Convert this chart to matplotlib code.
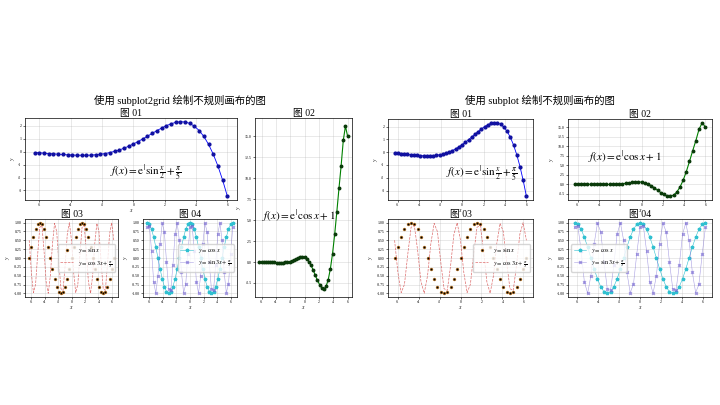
import matplotlib
matplotlib.use('Agg')
import matplotlib.pyplot as plt

plt.rcParams['font.family'] = ['Liberation Serif', 'Noto Sans CJK SC']
plt.rcParams['mathtext.fontset'] = 'stix'
plt.rcParams['axes.unicode_minus'] = False

# grid for 图01 / 图02
xa = [-6.3, -6.0, -5.7, -5.4, -5.1, -4.8, -4.5, -4.2, -3.9, -3.6, -3.3, -3.0, -2.7, -2.4,
      -2.1, -1.8, -1.5, -1.2, -0.9, -0.6, -0.3, 0.0, 0.3, 0.6, 0.9, 1.2, 1.5, 1.8, 2.1,
      2.4, 2.7, 3.0, 3.3, 3.6, 3.9, 4.2, 4.5, 4.8, 5.1, 5.4, 5.7, 6.0]
y01 = [-0.07, -0.09, -0.12, -0.15, -0.17, -0.20, -0.22, -0.25, -0.26, -0.28, -0.28, -0.28,
       -0.27, -0.24, -0.20, -0.15, -0.07, 0.02, 0.13, 0.26, 0.42, 0.59, 0.78, 0.98, 1.19,
       1.41, 1.62, 1.82, 2.00, 2.15, 2.26, 2.31, 2.29, 2.18, 1.96, 1.63, 1.17, 0.56,
       -0.20, -1.12, -2.21, -3.45]
y02 = [0.0, 0.0, 0.0, 0.0, 0.0, -0.02, -0.03, -0.05, -0.07, -0.08, -0.08, -0.07, -0.04, 0.0,
       0.05, 0.12, 0.22, 0.33, 0.45, 0.55, 0.6, 0.55, 0.35, 0.05, -0.4, -0.95, -1.6, -2.2,
       -2.7, -3.1, -3.2, -2.9, -2.1, -0.8, 1.0, 3.3, 6.0, 8.8, 11.5, 14.5, 16.2, 15.0]

# grid for 图03 / 图04 (-2π .. 2π, step π/10)
xb = [-6.283, -5.969, -5.655, -5.341, -5.027, -4.712, -4.398, -4.084, -3.770, -3.456,
      -3.142, -2.827, -2.513, -2.199, -1.885, -1.571, -1.257, -0.942, -0.628, -0.314,
      0.0, 0.314, 0.628, 0.942, 1.257, 1.571, 1.885, 2.199, 2.513, 2.827, 3.142, 3.456,
      3.770, 4.084, 4.398, 4.712, 5.027, 5.341, 5.655, 5.969, 6.283]
sin_x = [0, .309, .588, .809, .951, 1, .951, .809, .588, .309, 0, -.309, -.588, -.809,
         -.951, -1, -.951, -.809, -.588, -.309, 0, .309, .588, .809, .951, 1, .951, .809,
         .588, .309, 0, -.309, -.588, -.809, -.951, -1, -.951, -.809, -.588, -.309, 0]
cos_x = [1, .951, .809, .588, .309, 0, -.309, -.588, -.809, -.951, -1, -.951, -.809, -.588,
         -.309, 0, .309, .588, .809, .951, 1, .951, .809, .588, .309, 0, -.309, -.588,
         -.809, -.951, -1, -.951, -.809, -.588, -.309, 0, .309, .588, .809, .951, 1]
cos3x = [.5, -.407, -.978, -.743, .105, .866, .914, .208, -.669, -.995, -.5, .407, .978,
         .743, -.105, -.866, -.914, -.208, .669, .995, .5, -.407, -.978, -.743, .105, .866,
         .914, .208, -.669, -.995, -.5, .407, .978, .743, -.105, -.866, -.914, -.208, .669,
         .995, .5]
sin3x = [.866, .914, .208, -.669, -.995, -.5, .407, .978, .743, -.105, -.866, -.914, -.208,
         .669, .995, .5, -.407, -.978, -.743, .105, .866, .914, .208, -.669, -.995, -.5,
         .407, .978, .743, -.105, -.866, -.914, -.208, .669, .995, .5, -.407, -.978, -.743,
         .105, .866]

W, H = 720, 405


def box(x0, y0, x1, y1):
    return [x0 / W, 1 - y1 / H, (x1 - x0) / W, (y1 - y0) / H]


def style(ax, title):
    ax.set_title(title, fontsize=7, pad=1)
    ax.grid(True, alpha=0.5, linewidth=0.4)
    ax.tick_params(labelsize=2.8, length=1.5, width=0.4, pad=1)
    ax.set_xlabel('$x$', fontsize=4, labelpad=0)
    ax.set_ylabel('$y$', fontsize=4, labelpad=1)
    for s in ax.spines.values():
        s.set_linewidth(0.5)


def draw(fig, b1, b2, b3, b4, tx, ttl):
    fig.text(tx, 1 - 100 / H, ttl, ha='center', va='center', fontsize=7.5,
             family=['Liberation Serif', 'Noto Sans CJK SC'])
    ax1 = fig.add_axes(box(*b1))
    ax1.plot(xa, y01, color='blue', linewidth=0.6, marker='o', markersize=2,
             markerfacecolor='#1010a0', markeredgecolor='#1010a0')
    ax1.text(-1.5, -1.8, r'$f(x)=\mathrm{e}^{|}\sin\frac{x}{2}+\frac{\pi}{5}$', fontsize=8)
    style(ax1, '图 01')

    ax2 = fig.add_axes(box(*b2))
    ax2.plot(xa, y02, color='green', linewidth=0.8, marker='o', markersize=1.8,
             markerfacecolor='#0a3a0a', markeredgecolor='#0a3a0a')
    style(ax2, '图 02')
    ax2.set_yticks([-2.5, 0, 2.5, 5, 7.5, 10, 12.5, 15])

    ax3 = fig.add_axes(box(*b3))
    ax3.plot(xb, sin_x, 'o', color='black', markersize=2, markeredgecolor='#d08020',
             markeredgewidth=0.4, label=r'$y=\sin x$')
    ax3.plot(xb, cos3x, '--', color='#d03030', linewidth=0.5, alpha=0.7,
             label=r'$y=\cos 3x+\frac{\pi}{3}$')
    style(ax3, '图 03')
    ax3.legend(fontsize=4.5, loc='center right')

    ax4 = fig.add_axes(box(*b4))
    ax4.plot(xb, cos_x, color='#30c0d0', linewidth=0.4, marker='*', markersize=2.5,
             label=r'$y=\cos x$')
    ax4.plot(xb, sin3x, color='#7060d0', linewidth=0.4, alpha=0.6, marker='x',
             markersize=2, label=r'$y=\sin 3x+\frac{\pi}{3}$')
    style(ax4, '图 04')
    ax4.legend(fontsize=4.5, loc='center left' if tx > 0.5 else 'center right')
    return ax2


fig = plt.figure(figsize=(7.2, 4.05), dpi=100)

ax2l = draw(fig, (25, 118, 237, 200), (255, 118, 352, 297), (25, 219, 118, 297),
            (143, 219, 237, 297), 180 / W, '使用 subplot2grid 绘制不规则画布的图')
ax2l.text(-6, 5, r'$f(x)=\mathrm{e}^{|}\cos x+1$', fontsize=8)

ax2r = draw(fig, (388, 119, 533, 200), (568, 119, 712, 200), (388, 219, 533, 297),
            (568, 219, 712, 297), 540 / W, '使用 subplot 绘制不规则画布的图')
ax2r.text(-5, 6, r'$f(x)=\mathrm{e}^{|}\cos x+1$', fontsize=8)

fig.savefig('out.png', dpi=100)
